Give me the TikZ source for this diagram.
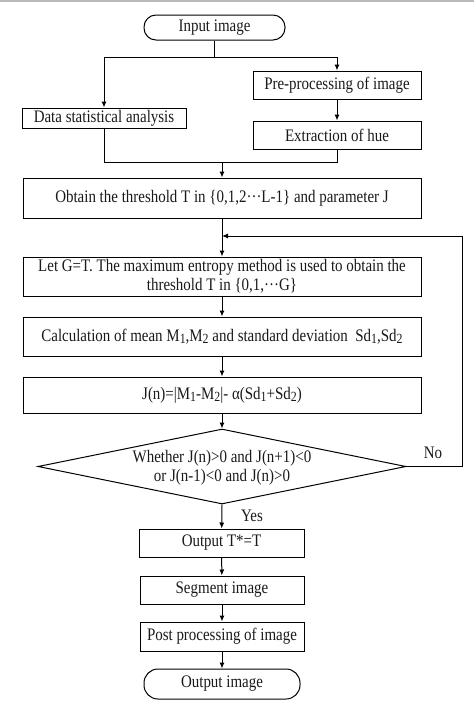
\documentclass[tikz,border=0pt]{standalone}
\usepackage{fontspec}
\setmainfont{Liberation Serif}[FakeStretch=0.85]
\usetikzlibrary{arrows.meta,shapes.geometric}
\newcommand\mysub[1]{\raisebox{-0.3ex}{\fontsize{14}{14}\selectfont #1}}
\begin{document}
\begin{tikzpicture}[x=1pt,y=-1pt,
  every node/.style={font=\fontsize{17.6}{19}\selectfont, inner sep=0pt, align=center, text=black!90},
  box/.style={draw, line width=1pt, rectangle},
  term/.style={draw, line width=1pt, rectangle, rounded corners=12pt},
  conn/.style={line width=1pt},
  arr/.style={line width=1pt, -{Latex[length=6pt,width=5pt]}}]
\useasboundingbox (0,0) rectangle (474,705);
\fill[gray!55] (0,0) rectangle (474,1.5);
% nodes
\node[term, minimum width=141pt, minimum height=25pt] (in) at (214.5,27.5) {Input image};
\node[box, minimum width=164pt, minimum height=20pt] (data) at (104,118) {Data statistical analysis};
\node[box, minimum width=168pt, minimum height=28pt] (pre) at (337,85) {Pre-processing of image};
\node[box, minimum width=168pt, minimum height=28pt] (ext) at (337,135) {Extraction of hue};
\node[box, minimum width=398pt, minimum height=40pt] (obt) at (222,198) {Obtain the threshold T in \{0,1,2···L-1\} and parameter J};
\node[box, minimum width=398pt, minimum height=39pt] (letg) at (222,276.5) {Let G=T. The maximum entropy method is used to obtain the\\ threshold T in \{0,1,···G\}};
\node[box, minimum width=398pt, minimum height=39pt] (calc) at (222,336.5) {Calculation of mean M\mysub{1},M\mysub{2} and standard deviation \ Sd\mysub{1},Sd\mysub{2}};
\node[box, minimum width=398pt, minimum height=36pt] (jn) at (222,395) {J(n)=|M\mysub{1}-M\mysub{2}|- α(Sd\mysub{1}+Sd\mysub{2})};
\node[draw, line width=1pt, diamond, minimum width=368pt, minimum height=75pt] (dia) at (222,466.5) {};
\node (diatext) at (222,467.5) {Whether J(n)>0 and J(n+1)<0\\ or J(n-1)<0 and J(n)>0};
\node[box, minimum width=165pt, minimum height=28pt] (out) at (221.5,543) {Output T*=T};
\node[box, minimum width=164pt, minimum height=28pt] (seg) at (222,590) {Segment image};
\node[box, minimum width=164pt, minimum height=29pt] (post) at (222,636.5) {Post processing of image};
\node[term, minimum width=156pt, minimum height=30pt, rounded corners=14pt] (oimg) at (222,684) {Output image};
% coordinates
\coordinate (split) at (214.5,57);
\coordinate (merge) at (222,162);
\coordinate (loopin) at (222,236);
\coordinate (noc) at (462,236);
% connectors
\draw[conn] (in) -- (split);
\draw[arr] (split) -| (data);
\draw[arr] (split) -| (pre);
\draw[arr] (pre) -- (ext);
\draw[conn] (data) |- (merge);
\draw[conn] (ext) |- (merge);
\draw[arr] (merge) -- (obt);
\draw[arr] (obt) -- (letg);
\draw[arr] (letg) -- (calc);
\draw[arr] (calc) -- (jn);
\draw[arr] (jn) -- (dia.north);
\draw[arr] (dia.east) -| (noc) -- (loopin);
\draw[arr] (dia.south) -- (out);
\draw[arr] (out) -- (seg);
\draw[arr] (seg) -- (post);
\draw[arr] (post) -- (oimg);
\node (no) at (433,453) {No};
\node (yes) at (252,516) {Yes};
\end{tikzpicture}
\end{document}
